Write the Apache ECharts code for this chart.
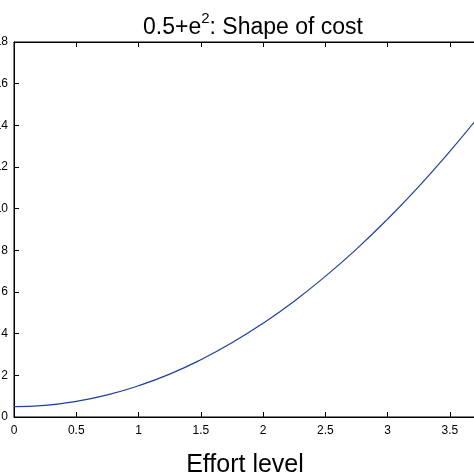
<!DOCTYPE html>
<html>
<head>
<meta charset="utf-8">
<script src="https://cdn.jsdelivr.net/npm/echarts@6/dist/echarts.min.js"></script>
<style>html,body{margin:0;padding:0;background:#fff}#chart{width:474px;height:474px}</style>
</head>
<body>
<div id="chart"></div>
<script>
// values
var effort = [0, 0.25, 0.5, 0.75, 1, 1.25, 1.5, 1.75, 2, 2.25, 2.5, 2.75, 3, 3.25, 3.5, 3.71];
var cost = [0.5, 0.56, 0.75, 1.06, 1.5, 2.06, 2.75, 3.56, 4.5, 5.56, 6.75, 8.06, 9.5, 11.06, 12.75, 14.26];
var yTicks = [0, 2, 4, 6, 8, 10, 12, 14, 16, 18];

var chart = echarts.init(document.getElementById('chart'));
var font = 'Liberation Sans, Arial, sans-serif';
chart.setOption({
  animation: false,
  title: {
    text: '0.5+e{sup|2}: Shape of cost',
    left: 248, top: 6, textAlign: 'center',
    textStyle: {
      fontFamily: font, fontSize: 23, fontWeight: 'normal', color: '#000',
      rich: { sup: { fontSize: 15, verticalAlign: 'top', padding: [0, 0, 18, 0], fontFamily: font } }
    }
  },
  grid: { left: 14, right: -2, top: 42, bottom: 57, containLabel: false, outerBoundsMode: 'none',
    show: true, borderColor: '#000', borderWidth: 1 },
  xAxis: [{
    type: 'value', min: 0, max: 3.71, interval: 0.5,
    name: 'Effort level', nameLocation: 'middle', nameGap: 36,
    nameTextStyle: { fontFamily: font, fontSize: 25, color: '#000' },
    axisLine: { lineStyle: { color: '#000' } },
    axisTick: { inside: true, length: 5, lineStyle: { color: '#000' } },
    axisLabel: { showMaxLabel: false, fontFamily: font, fontSize: 12, color: '#000', margin: 8 },
    splitLine: { show: false }
  }, {
    type: 'value', position: 'top', min: 0, max: 3.71, interval: 0.5,
    axisLine: { lineStyle: { color: '#000' } },
    axisTick: { inside: true, length: 5, lineStyle: { color: '#000' } },
    axisLabel: { show: false }, splitLine: { show: false }
  }],
  yAxis: {
    type: 'value', min: yTicks[0], max: yTicks[yTicks.length - 1], interval: 2,
    axisLine: { show: true, lineStyle: { color: '#000' } },
    axisTick: { show: true, inside: true, length: 5, lineStyle: { color: '#000' } },
    axisLabel: { fontFamily: font, fontSize: 12, color: '#000', margin: 6 },
    splitLine: { show: false }
  },
  series: [{
    type: 'line', showSymbol: false, smooth: true,
    data: effort.map(function (e, i) { return [e, cost[i]]; }),
    lineStyle: { color: '#1f3f9f', width: 1.2 }
  }]
});
</script>
</body>
</html>
